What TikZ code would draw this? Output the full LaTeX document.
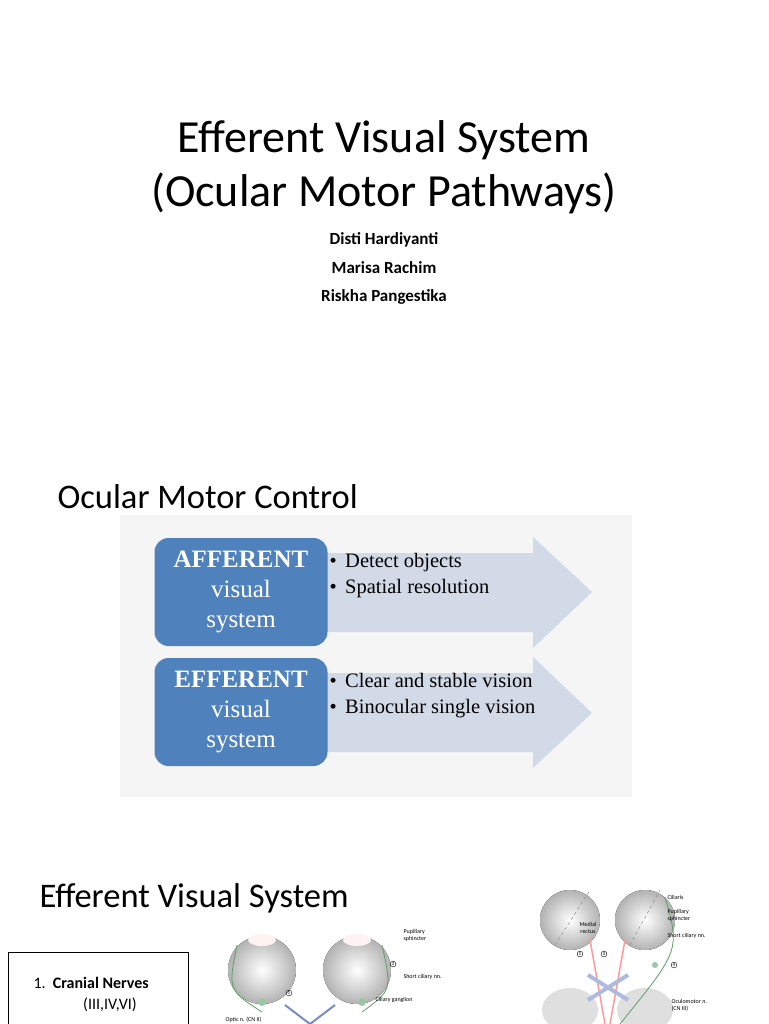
\documentclass[tikz,border=0pt]{standalone}
\usepackage{fontspec}
\setmainfont{Carlito}
\newfontfamily\serifc{Liberation Serif}
\usetikzlibrary{shapes.arrows}
\definecolor{boxblue}{RGB}{79,129,189}
\definecolor{arrowgray}{RGB}{210,218,232}
\definecolor{nerve}{RGB}{90,160,100}
\definecolor{bluen}{RGB}{120,140,200}
\begin{document}
\begin{tikzpicture}[x=1pt,y=-1pt,
  bluebox/.style={fill=boxblue,rounded corners=14pt,minimum width=173pt,minimum height=108pt,text=white,align=center,font=\serifc\fontsize{25}{30}\selectfont},
  bul/.style={anchor=west,align=left,font=\serifc\fontsize{20.5}{26}\selectfont},
  lab/.style={font=\fontsize{6}{7}\selectfont,anchor=west,align=left},
  num/.style={draw,circle,inner sep=0.6pt,font=\fontsize{5}{5}\selectfont},
  eye/.style={shade,inner color=white,outer color=gray!60,draw=none}]
\useasboundingbox (0,0) rectangle (768,1024);
\fill[white] (0,0) rectangle (768,1024);
\node (t1) at (384,140) {\fontsize{46}{50}\selectfont Efferent Visual System};
\node (t2) at (384,193) {\fontsize{46}{50}\selectfont (Ocular Motor Pathways)};
\node[font=\bfseries\fontsize{17}{20}\selectfont] (a1) at (384,240) {Disti Hardiyanti};
\node[font=\bfseries\fontsize{17}{20}\selectfont] (a2) at (384,268) {Marisa Rachim};
\node[font=\bfseries\fontsize{17}{20}\selectfont] (a3) at (384,297) {Riskha Pangestika};
\node[anchor=west,font=\fontsize{34.5}{38}\selectfont] (s1) at (54,497) {Ocular Motor Control};
\fill[gray!8] (120,515) rectangle (632,797);
\fill[arrowgray] (320,553) -- (533,553) -- (533,537) -- (592,592) -- (533,648) -- (533,632) -- (320,632) -- cycle;
\fill[arrowgray] (320,673) -- (533,673) -- (533,657) -- (592,713) -- (533,768) -- (533,752) -- (320,752) -- cycle;
\node[bluebox] (aff) at (241,592) {\textbf{AFFERENT}\\visual\\system};
\node[bluebox] (eff) at (241,712) {\textbf{EFFERENT}\\visual\\system};
\node[bul] (b1) at (326,576) {•\, Detect objects\\•\, Spatial resolution};
\node[bul] (b2) at (326,696) {•\, Clear and stable vision\\•\, Binocular single vision};
\node[anchor=west,font=\fontsize{34.5}{38}\selectfont] (s2) at (36,898) {Efferent Visual System};
\draw[line width=0.8pt] (8,952) rectangle (188,1030);
\node[anchor=west,font=\fontsize{16}{19}\selectfont] (c1) at (30,983) {1.\ \ \textbf{Cranial Nerves}};
\node[font=\fontsize{16}{19}\selectfont] (c2) at (110,1005) {(III,IV,VI)};
% left figure
\fill[eye] (262,970) circle (34);
\fill[eye] (357,970) circle (34);
\fill[white!80!pink] (262,940) ellipse (14 and 6);
\fill[white!80!pink] (357,940) ellipse (14 and 6);
\draw[nerve,thick] (237,945) .. controls (228,990) .. (262,1012);
\draw[nerve,thick] (382,945) .. controls (392,990) .. (362,1012);
\fill[nerve!60] (262,1002) circle (4);
\fill[nerve!60] (362,1002) circle (4);
\draw[bluen,line width=2pt] (285,1005) -- (310,1024) (335,1005) -- (310,1024);
\node[lab] (l1) at (400,935) {Pupillary\\sphincter};
\node[num] (l2) at (393,964) {3};
\node[lab] (l3) at (400,977) {Short ciliary nn.};
\node[lab] (l4) at (372,1000) {Ciliary ganglion};
\node[num] (l5) at (289,993) {1};
\node[lab,anchor=east] (l6) at (265,1020) {Optic n. (CN II)};
% right figure
\fill[eye] (570,920) circle (30);
\fill[eye] (645,920) circle (30);
\fill[gray!25] (570,1010) ellipse (28 and 22);
\fill[gray!25] (645,1010) ellipse (28 and 22);
\draw[gray,dashed,thin] (555,945) -- (590,890) (630,945) -- (660,890);
\draw[red!40,line width=1.5pt] (590,940) -- (605,1024) (625,940) -- (610,1024);
\draw[bluen!60,line width=4pt] (588,975) -- (628,1000) (628,975) -- (588,1000);
\draw[nerve,thick] (665,897) .. controls (680,950) .. (620,1024);
\fill[nerve!60] (655,965) circle (3);
\node[lab] (r1) at (664,897) {Ciliaris};
\node[lab] (r2) at (664,915) {Pupillary\\sphincter};
\node[lab] (r3) at (664,936) {Short ciliary nn.};
\node[num] (r4) at (674,965) {4};
\node[lab,align=center,anchor=center] (r5) at (588,928) {Medial\\rectus};
\node[num] (r6) at (580,954) {1};
\node[num] (r7) at (604,954) {3};
\node[lab] (r8) at (668,1005) {Oculomotor n.\\(CN III)};
\end{tikzpicture}
\end{document}
